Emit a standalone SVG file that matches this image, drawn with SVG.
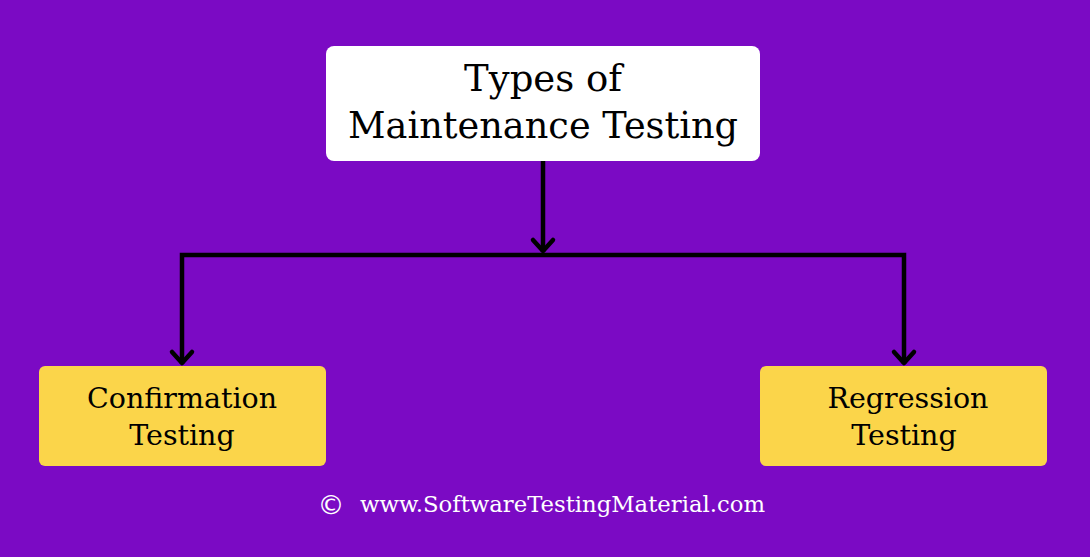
<svg xmlns="http://www.w3.org/2000/svg" width="1090" height="557" viewBox="0 0 1090 557">
<style>
.t{font-family:"DejaVu Serif","Liberation Serif",serif;fill:#000;text-anchor:middle}
.ln{fill:none;stroke:#000;stroke-width:4.5;stroke-linejoin:miter}
.ah{fill:none;stroke:#000;stroke-width:4.5;stroke-linecap:round;stroke-linejoin:round}
.leaf{fill:#fbd54a}
</style>
<rect width="1090" height="557" fill="#7b0ac4"/>
<g id="connectors">
<path class="ln" d="M543 161 V252"/>
<path class="ah" d="M533 240 L543 251 L553 240"/>
<path class="ln" d="M182 364 V255 H904 V364"/>
<path class="ah" d="M172 352 L182 363 L192 352"/>
<path class="ah" d="M894 352 L904 363 L914 352"/>
</g>
<g id="root">
<rect x="326" y="46" width="434" height="115" rx="8" fill="#fff"/>
<text class="t" x="543" y="91" font-size="37">Types of</text>
<text class="t" x="543" y="138" font-size="37" textLength="390" lengthAdjust="spacingAndGlyphs">Maintenance Testing</text>
</g>
<g id="confirmation">
<rect class="leaf" x="39" y="366" width="287" height="100" rx="6"/>
<text class="t" x="182" y="408" font-size="28.5">Confirmation</text>
<text class="t" x="182" y="445" font-size="28.5">Testing</text>
</g>
<g id="regression">
<rect class="leaf" x="760" y="366" width="287" height="100" rx="6"/>
<text class="t" x="908" y="408" font-size="28.5">Regression</text>
<text class="t" x="904" y="445" font-size="28.5">Testing</text>
</g>
<g id="footer">
<text x="331" y="514" font-size="27" fill="#fff" text-anchor="middle" font-family="DejaVu Sans,sans-serif">©</text>
<text x="360" y="512" font-size="22" fill="#fff" font-family="DejaVu Serif,Liberation Serif,serif" textLength="405" lengthAdjust="spacingAndGlyphs">www.SoftwareTestingMaterial.com</text>
</g>
</svg>
